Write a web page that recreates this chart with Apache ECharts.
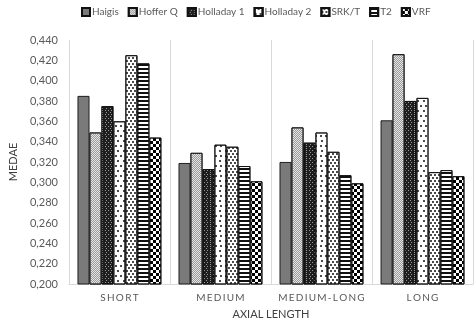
<!DOCTYPE html>
<html>
<head>
<meta charset="utf-8">
<script src="https://cdn.jsdelivr.net/npm/echarts@6/dist/echarts.min.js"></script>
<style>html,body{margin:0;padding:0;background:#fff;}#c{width:474px;height:325px;}</style>
</head>
<body>
<div id="c"></div>
<script>
var categories = ['SHORT', 'MEDIUM', 'MEDIUM-LONG', 'LONG'];
var seriesNames = ['Haigis', 'Hoffer Q', 'Holladay 1', 'Holladay 2', 'SRK/T', 'T2', 'VRF'];
var haigis    = [0.385, 0.319, 0.320, 0.361];
var hofferQ   = [0.349, 0.329, 0.354, 0.426];
var holladay1 = [0.375, 0.313, 0.339, 0.380];
var holladay2 = [0.360, 0.337, 0.349, 0.383];
var srkt      = [0.425, 0.335, 0.330, 0.310];
var t2        = [0.417, 0.316, 0.307, 0.312];
var vrf       = [0.344, 0.301, 0.299, 0.306];
var yTicks = { min: 0.2, max: 0.44, step: 0.02 };

var values = [haigis, hofferQ, holladay1, holladay2, srkt, t2, vrf];
var fills = ['#7a7a7a', '#e6e6e6', '#1e1e1e', '#ffffff', '#ffffff', '#ffffff', '#ffffff'];
var decals = [
  null,
  { symbol: 'rect', symbolSize: 1, color: '#9a9a9a', dashArrayX: [[1, 1], [0, 1, 1, 0]], dashArrayY: [1, 0] },
  { symbol: 'rect', symbolSize: 1, color: '#9a9a9a', dashArrayX: [[1, 2], [0, 1.5, 1, 0.5]], dashArrayY: [1, 1] },
  { symbol: 'circle', symbolSize: 1, color: '#111', dashArrayX: [[1.5, 3], [0, 2.25, 1.5, 0.75]], dashArrayY: [1.5, 2.5] },
  { symbol: 'circle', symbolSize: 1, color: '#111', dashArrayX: [[1.5, 1.5], [0, 1.5, 1.5, 0]], dashArrayY: [1.5, 0.7] },
  { symbol: 'rect', symbolSize: 1, color: '#111', dashArrayX: [1, 0], dashArrayY: [1.5, 1.5] },
  { symbol: 'rect', symbolSize: 1, color: '#000', dashArrayX: [[3, 3], [0, 3, 3, 0]], dashArrayY: [3, 0] }
];

var series = seriesNames.map(function (n, i) {
  var style = { color: fills[i], borderColor: '#111', borderWidth: 0.9 };
  if (decals[i]) style.decal = decals[i];
  return {
    name: n,
    type: 'bar',
    data: values[i],
    barGap: '0%',
    barCategoryGap: '17%',
    itemStyle: style
  };
});

var chart = echarts.init(document.getElementById('c'), null, { renderer: 'canvas' });
chart.setOption({
  animation: false,
  textStyle: { fontFamily: 'Lato, "Liberation Sans", sans-serif' },
  legend: {
    top: 2, left: 76, width: 398,
    itemWidth: 8, itemHeight: 8, itemGap: 9,
    icon: 'rect',
    textStyle: { color: '#595959', fontSize: 10, padding: [0, 0, 0, -3] },
    data: seriesNames
  },
  grid: { left: 49, right: 1, top: 40, bottom: 33 },
  xAxis: {
    type: 'category',
    data: categories,
    axisTick: { show: false },
    axisLine: { lineStyle: { color: '#d9d9d9' } },
    splitLine: { show: true, interval: 0, lineStyle: { color: '#d9d9d9' } },
    axisLabel: {
      color: '#595959', fontSize: 10, margin: 9, interval: 0,
      formatter: function (v) { return v.split('').join('\u2009'); }
    },
    name: 'AXIAL LENGTH', nameLocation: 'middle', nameGap: 25,
    nameTextStyle: { color: '#404040', fontSize: 11 }
  },
  yAxis: {
    type: 'value',
    min: yTicks.min, max: yTicks.max, interval: yTicks.step,
    splitLine: { show: false },
    axisLine: { show: false },
    axisTick: { show: false },
    axisLabel: {
      color: '#595959', fontSize: 11, margin: 11,
      formatter: function (v) { return v.toFixed(3).replace('.', ','); }
    },
    name: 'MEDAE', nameLocation: 'middle', nameGap: 43,
    nameTextStyle: { color: '#404040', fontSize: 11 }
  },
  series: series
});
</script>
</body>
</html>
